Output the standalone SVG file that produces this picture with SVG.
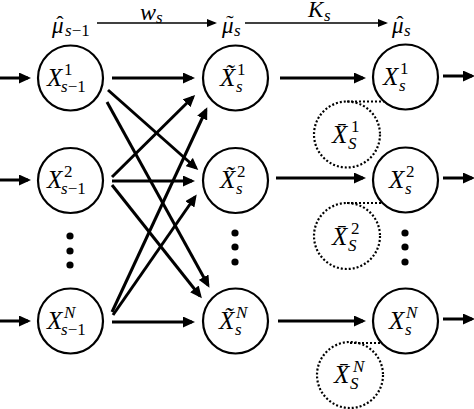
<svg xmlns="http://www.w3.org/2000/svg" width="474" height="409" viewBox="0 0 474 409">
<style>
.n{fill:#fff;stroke:#000;stroke-width:2.2}
.d{fill:none;stroke:#000;stroke-width:2.2;stroke-dasharray:2 2}
.a{stroke:#000;stroke-width:3;fill:none}
.t{stroke:#000;stroke-width:1.6;fill:none}
.dl{stroke:#000;stroke-width:2.2;stroke-dasharray:2 2;fill:none}
text{font-family:"Liberation Serif","DejaVu Serif",serif;fill:#000}
.b{font-size:25px;font-style:italic}
.s{font-size:17px}
.i{font-style:italic}
.mu{font-size:23px;font-style:italic}
.acc{font-size:22px;text-anchor:middle}
</style>
<defs>
<marker id="ah" markerUnits="userSpaceOnUse" markerWidth="12" markerHeight="11" refX="9" refY="5.5" orient="auto"><path d="M0,0 L12,5.5 L0,11 z" fill="#000"/></marker>
<marker id="ht" markerUnits="userSpaceOnUse" markerWidth="10" markerHeight="8" refX="8" refY="4" orient="auto"><path d="M0,0 L10,4 L0,8 z" fill="#000"/></marker>
</defs>

<g id="connectors">
<line class="t" x1="97" y1="23" x2="215" y2="23" marker-end="url(#ht)"/>
<line class="t" x1="245" y1="23" x2="386" y2="23" marker-end="url(#ht)"/>
<line class="a" x1="0" y1="78" x2="28" y2="78" marker-end="url(#ah)"/>
<line class="a" x1="0" y1="180" x2="28" y2="180" marker-end="url(#ah)"/>
<line class="a" x1="0" y1="321" x2="28" y2="321" marker-end="url(#ah)"/>
<line class="a" x1="112" y1="78" x2="192" y2="78" marker-end="url(#ah)"/>
<line class="a" x1="112" y1="181" x2="192" y2="181" marker-end="url(#ah)"/>
<line class="a" x1="112" y1="322" x2="192" y2="322" marker-end="url(#ah)"/>
<line class="a" x1="108" y1="90" x2="196" y2="168" marker-end="url(#ah)"/>
<line class="a" x1="107" y1="102" x2="208" y2="285" marker-end="url(#ah)"/>
<line class="a" x1="112" y1="177" x2="193" y2="97" marker-end="url(#ah)"/>
<line class="a" x1="112" y1="185" x2="200" y2="296" marker-end="url(#ah)"/>
<line class="a" x1="112" y1="312" x2="206" y2="110" marker-end="url(#ah)"/>
<line class="a" x1="113" y1="315" x2="195" y2="197" marker-end="url(#ah)"/>
<line class="a" x1="280" y1="78" x2="363" y2="78" marker-end="url(#ah)"/>
<line class="a" x1="276" y1="178" x2="363" y2="178" marker-end="url(#ah)"/>
<line class="a" x1="278" y1="321" x2="363" y2="321" marker-end="url(#ah)"/>
<line class="a" x1="443" y1="76" x2="472" y2="76" marker-end="url(#ah)"/>
<line class="a" x1="443" y1="178" x2="472" y2="178" marker-end="url(#ah)"/>
<line class="a" x1="443" y1="319" x2="472" y2="319" marker-end="url(#ah)"/>
<line class="dl" x1="347" y1="101.5" x2="384" y2="101.5"/>
<line class="dl" x1="347" y1="203" x2="383" y2="203"/>
<line class="dl" x1="350" y1="343" x2="383" y2="343"/>
</g>

<g id="labels">
<text x="52" y="33"><tspan class="mu">μ</tspan><tspan class="s" x="65" y="36"><tspan class="i">s</tspan>−1</tspan></text>
<text class="acc" x="60" y="31">ˆ</text>
<text x="140" y="20"><tspan class="mu" style="font-size:24px">w</tspan><tspan class="s i" x="156" y="23">s</tspan></text>
<text x="222" y="33"><tspan class="mu">μ</tspan><tspan class="s i" x="234" y="36">s</tspan></text>
<text class="acc" x="230" y="30">˜</text>
<text x="308" y="17"><tspan class="mu">K</tspan><tspan class="s i" x="324" y="21">s</tspan></text>
<text x="392" y="33"><tspan class="mu">μ</tspan><tspan class="s i" x="404" y="36">s</tspan></text>
<text class="acc" x="400" y="31">ˆ</text>
</g>

<g id="x1prev"><circle class="n" cx="70.5" cy="78" r="32.5"/><text x="47" y="86"><tspan class="b">X</tspan><tspan class="s" x="64" y="75">1</tspan><tspan class="s" x="61" y="92"><tspan class="i">s</tspan>−1</tspan></text></g>
<g id="x2prev"><circle class="n" cx="70.5" cy="180.5" r="32.5"/><text x="47" y="188"><tspan class="b">X</tspan><tspan class="s" x="64" y="177">2</tspan><tspan class="s" x="61" y="194"><tspan class="i">s</tspan>−1</tspan></text></g>
<g id="xNprev"><circle class="n" cx="70.5" cy="321" r="32.5"/><text x="47" y="329"><tspan class="b">X</tspan><tspan class="s i" x="64" y="318">N</tspan><tspan class="s" x="61" y="335"><tspan class="i">s</tspan>−1</tspan></text></g>

<g id="xt1"><circle class="n" cx="235.5" cy="78" r="32.5"/><text x="220" y="86"><tspan class="b">X̃</tspan><tspan class="s" x="237" y="75">1</tspan><tspan class="s i" x="236" y="92">s</tspan></text></g>
<g id="xt2"><circle class="n" cx="235.5" cy="180.5" r="32.5"/><text x="220" y="188"><tspan class="b">X̃</tspan><tspan class="s" x="237" y="177">2</tspan><tspan class="s i" x="236" y="194">s</tspan></text></g>
<g id="xtN"><circle class="n" cx="235.5" cy="321" r="32.5"/><text x="219" y="329"><tspan class="b">X̃</tspan><tspan class="s i" x="236" y="318">N</tspan><tspan class="s i" x="235" y="335">s</tspan></text></g>

<g id="xs1"><circle class="n" cx="405.5" cy="77" r="32.5"/><text x="383" y="85"><tspan class="b">X</tspan><tspan class="s" x="400" y="74">1</tspan><tspan class="s i" x="399" y="91">s</tspan></text></g>
<g id="xs2"><circle class="n" cx="405.5" cy="180" r="32.5"/><text x="389" y="188"><tspan class="b">X</tspan><tspan class="s" x="406" y="177">2</tspan><tspan class="s i" x="405" y="194">s</tspan></text></g>
<g id="xsN"><circle class="n" cx="405.5" cy="321" r="32.5"/><text x="389" y="329"><tspan class="b">X</tspan><tspan class="s i" x="406" y="318">N</tspan><tspan class="s i" x="405" y="335">s</tspan></text></g>

<g id="xb1"><circle class="d" cx="347" cy="134.5" r="33"/><text x="332" y="143"><tspan class="b">X̄</tspan><tspan class="s" x="351" y="132">1</tspan><tspan class="s i" x="348" y="149">S</tspan></text></g>
<g id="xb2"><circle class="d" cx="347" cy="236" r="33"/><text x="332" y="245"><tspan class="b">X̄</tspan><tspan class="s" x="351" y="234">2</tspan><tspan class="s i" x="348" y="251">S</tspan></text></g>
<g id="xbN"><circle class="d" cx="350" cy="375" r="33"/><text x="334" y="383"><tspan class="b">X̄</tspan><tspan class="s i" x="353" y="372">N</tspan><tspan class="s i" x="350" y="389">S</tspan></text></g>

<g id="dots">
<circle cx="70" cy="236" r="3.6"/><circle cx="70" cy="251" r="3.6"/><circle cx="70" cy="265" r="3.6"/>
<circle cx="235" cy="233" r="3.6"/><circle cx="235" cy="247" r="3.6"/><circle cx="235" cy="262" r="3.6"/>
<circle cx="405" cy="233" r="3.6"/><circle cx="405" cy="247" r="3.6"/><circle cx="405" cy="262" r="3.6"/>
</g>
</svg>
